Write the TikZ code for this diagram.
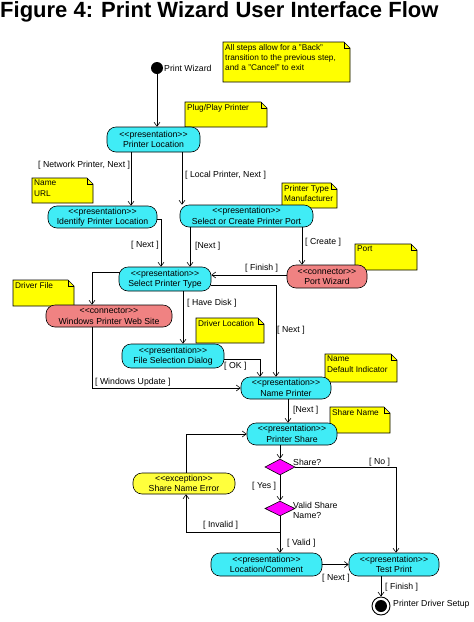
\documentclass[tikz,border=0pt]{standalone}
\usepackage{fontspec}
\setmainfont{Liberation Sans}
\usetikzlibrary{arrows.meta,shapes.geometric}
\definecolor{actcyan}{RGB}{64,236,246}
\definecolor{conpink}{RGB}{240,130,130}
\definecolor{noteyel}{RGB}{255,255,0}
\definecolor{excyel}{RGB}{255,255,60}
\definecolor{decmag}{RGB}{255,0,255}
\newcommand\stereo[1]{<\kern0pt<#1>\kern0pt>}
\newcommand\umlnote[6]{%
  \filldraw[fill=noteyel, line width=0.6pt] (#2,#3) -- (#4-6,#3) -- (#4,#3+6) -- (#4,#5) -- (#2,#5) -- cycle;
  \draw[line width=0.6pt] (#4-6,#3) -- (#4-6,#3+6) -- (#4,#3+6);
  \node[notetext] (#1) at (#2+2,#3+2) {#6};
}
\begin{document}
\begin{tikzpicture}[x=1pt,y=-1pt,
  every node/.style={font=\fontsize{8.7}{10.5}\selectfont},
  act/.style={draw, line width=0.6pt, fill=actcyan, rounded corners=9pt, align=center, inner sep=0pt, minimum height=22pt},
  con/.style={act, fill=conpink},
  exc/.style={act, fill=excyel},
  dec/.style={diamond, draw, line width=0.6pt, fill=decmag, inner sep=0pt, minimum width=30pt, minimum height=16pt},
  notetext/.style={anchor=north west, align=left, inner sep=0pt, font=\fontsize{8.3}{10.3}\selectfont},
  lbl/.style={anchor=west, inner sep=0pt, align=left},
  flow/.style={draw, line width=0.6pt, -{Straight Barb[length=4pt,width=6pt,line width=0.6pt]}}
]
\fill[white] (0,0) rectangle (474,622);
\useasboundingbox (0,0) rectangle (474,622);

% title
\node[anchor=base west, inner sep=0pt, font=\fontsize{22}{24}\selectfont\bfseries] (title) at (0,17) {Figure 4: Print Wizard User Interface Flow};

% notes
\umlnote{n1}{223}{42}{350}{82}{All steps allow for a "Back"\\transition to the previous step,\\and a "Cancel" to exit}
\umlnote{n2}{185}{102}{267}{127}{Plug/Play Printer}
\umlnote{n3}{32}{178}{93}{203}{Name\\URL}
\umlnote{n4}{282}{183}{337}{208}{Printer Type\\Manufacturer}
\umlnote{n5}{355}{244}{417}{270}{Port}
\umlnote{n6}{13}{280}{74}{306}{Driver File}
\umlnote{n7}{196}{318}{264}{343}{Driver Location}
\umlnote{n8}{325}{354}{397}{382}{Name\\Default Indicator}
\umlnote{n9}{330}{407}{390}{433}{Share Name}

% start / end
\node[circle, fill=black, minimum size=12pt, inner sep=0pt] (start) at (157,68) {};
\node[lbl] (startlbl) at (164,68) {Print Wizard};
\node[circle, draw, line width=0.9pt, fill=white, minimum size=18pt, inner sep=0pt] (end) at (381,606) {};
\node[circle, fill=black, minimum size=12pt, inner sep=0pt] (endin) at (381,606) {};
\node[lbl] (endlbl) at (393,604) {Printer Driver Setup};

% activities
\node[act, minimum width=93pt, minimum height=25pt] (PL) at (153.5,139.5) {\stereo{presentation}\\Printer Location};
\node[act, minimum width=109pt] (IPL) at (102.5,217) {\stereo{presentation}\\Identify Printer Location};
\node[act, minimum width=133pt] (SCP) at (246.5,216) {\stereo{presentation}\\Select or Create Printer Port};
\node[con, minimum width=80pt, minimum height=23pt] (PW) at (327,276.5) {\stereo{connector}\\Port Wizard};
\node[act, minimum width=92pt, minimum height=24pt] (SPT) at (165,279) {\stereo{presentation}\\Select Printer Type};
\node[con, minimum width=126pt] (WPW) at (109,316) {\stereo{connector}\\Windows Printer Web Site};
\node[act, minimum width=102pt, minimum height=24pt] (FSD) at (173,356) {\stereo{presentation}\\File Selection Dialog};
\node[act, minimum width=90pt] (NP) at (286,388) {\stereo{presentation}\\Name Printer};
\node[act, minimum width=90pt] (PS) at (292,434) {\stereo{presentation}\\Printer Share};
\node[exc, minimum width=102pt, minimum height=21pt] (SNE) at (184,483.5) {\stereo{exception}\\Share Name Error};
\node[act, minimum width=111pt, minimum height=23pt] (LC) at (266.5,564.5) {\stereo{presentation}\\Location/Comment};
\node[act, minimum width=90pt, minimum height=23pt] (TP) at (394,564.5) {\stereo{presentation}\\Test Print};

% decisions
\node[dec] (D1) at (280,467) {};
\node[dec, minimum height=15pt] (D2) at (280,508.5) {};
\node[lbl] (D1lbl) at (293,462) {Share?};
\node[lbl] (D2lbl) at (293,510.5) {Valid Share\\Name?};

% helper x positions
\coordinate (vPLl) at (131,0);
\coordinate (vPLr) at (182,0);
\coordinate (vIPL) at (161,0);
\coordinate (vSCPl) at (190,0);
\coordinate (vSCPr) at (302,0);
\coordinate (vWPW) at (92,0);
\coordinate (vHD) at (183,0);
\coordinate (vSPTr) at (276,0);
\coordinate (vFSD) at (260,0);
\coordinate (vNP) at (288,0);
\coordinate (vPS) at (280,0);
\coordinate (vNo) at (396,0);
\coordinate (vSNE) at (186,0);
\coordinate (vTP) at (381,0);
\coordinate (inv) at (280,532);

% connectors
\draw[flow] (start) -- (start |- PL.north);
\draw[flow] (vPLl |- PL.south) -- (vPLl |- IPL.north);
\draw[flow] (vPLr |- PL.south) -- (vPLr |- SCP.north);
\draw[flow] ([yshift=-2pt]IPL.east) -| (vIPL |- SPT.north);
\draw[flow] (vSCPl |- SCP.south) -- (vSCPl |- SPT.north);
\draw[flow] (vSCPr |- SCP.south) -- (vSCPr |- PW.north);
\draw[flow] ([yshift=1.5pt]PW.west) -- ([yshift=1.5pt]PW.west -| SPT.east);
\draw[flow] ([yshift=7pt,xshift=1pt]SPT.west) -| (vWPW |- WPW.north);
\draw[flow] (vHD |- SPT.south) -- (vHD |- FSD.north);
\draw[flow] ([yshift=-6pt]SPT.east) -| (vSPTr |- NP.north);
\draw[flow] ([yshift=-3pt]FSD.east) -| (vFSD |- NP.north);
\draw[flow] (vWPW |- WPW.south) |- (NP.west);
\draw[flow] (vNP |- NP.south) -- (vNP |- PS.north);
\draw[flow] (vPS |- PS.south) -- (D1.north);
\draw[flow] (D1.east) -| (vNo |- TP.north);
\draw[flow] (D1.south) -- (D2.north);
\draw[flow] (D2.south) -- (D2.south |- LC.north);
\draw[flow] (inv) -| (vSNE |- SNE.south);
\draw[flow] (vSNE |- SNE.north) |- (PS.west);
\draw[flow] (LC.east) -- (TP.west);
\draw[flow] (vTP |- TP.south) -- (end.north);

% connector labels
\node[lbl] (l1) at (38,165) {[ Network Printer, Next ]};
\node[lbl] (l2) at (185,175) {[ Local Printer, Next ]};
\node[lbl] (l3) at (131,245) {[ Next ]};
\node[lbl] (l4) at (195,246) {[Next ]};
\node[lbl] (l5) at (305,242) {[ Create ]};
\node[lbl] (l6) at (245,268) {[ Finish ]};
\node[lbl] (l7) at (187,303) {[ Have Disk ]};
\node[lbl] (l8) at (277,330) {[ Next ]};
\node[lbl] (l9) at (224,366) {[ OK ]};
\node[lbl] (l10) at (95,382) {[ Windows Update ]};
\node[lbl] (l11) at (293,410) {[Next ]};
\node[lbl] (l12) at (369,462) {[ No ]};
\node[lbl] (l13) at (252,486) {[ Yes ]};
\node[lbl] (l14) at (203,525) {[ Invalid ]};
\node[lbl] (l15) at (287,543) {[ Valid ]};
\node[lbl] (l16) at (322,578) {[ Next ]};
\node[lbl] (l17) at (385,587) {[ Finish ]};
\end{tikzpicture}
\end{document}
